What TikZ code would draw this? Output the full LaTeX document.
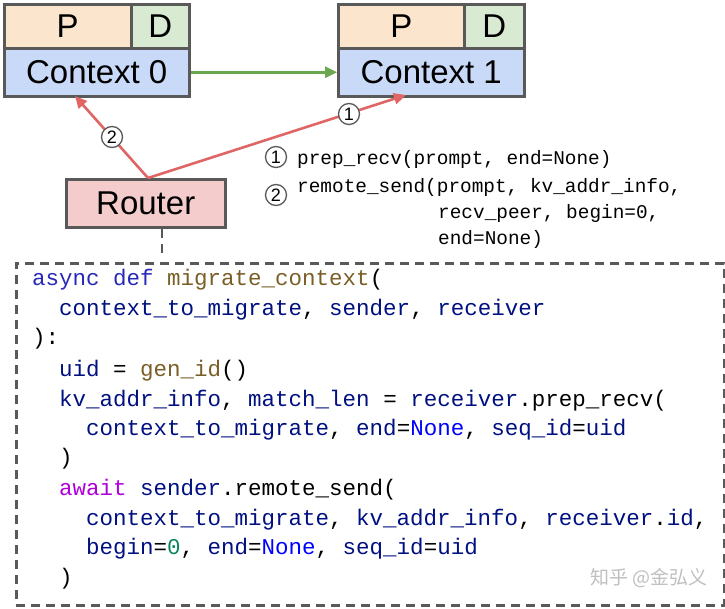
\documentclass[tikz,border=0pt]{standalone}
\usepackage{fontspec}
\setmainfont{Liberation Sans}
\setmonofont{Liberation Mono}
\newfontfamily\cjk{Noto Sans CJK SC}
\usetikzlibrary{arrows.meta}
\definecolor{cP}{HTML}{FCE5CD}
\definecolor{cD}{HTML}{D9EAD3}
\definecolor{cC}{HTML}{C9DAF8}
\definecolor{cR}{HTML}{F4CCCC}
\definecolor{edge}{HTML}{595959}
\definecolor{red1}{HTML}{E06666}
\definecolor{grn1}{HTML}{6AA84F}
\definecolor{kwb}{HTML}{2828B8}
\definecolor{fnc}{HTML}{795E26}
\definecolor{idn}{HTML}{001080}
\definecolor{aw}{HTML}{AF00DB}
\definecolor{nonec}{HTML}{0000FF}
\definecolor{numc}{HTML}{098658}
\newcommand\Kw[1]{\textcolor{kwb}{#1}}
\newcommand\Fn[1]{\textcolor{fnc}{#1}}
\newcommand\Aw[1]{\textcolor{aw}{#1}}
\newcommand\Nn[1]{\textcolor{nonec}{#1}}
\newcommand\Nm[1]{\textcolor{numc}{#1}}
\begin{document}
\begin{tikzpicture}[x=1pt,y=-1pt,
  box/.style={draw=edge,line width=2.5pt,minimum height=#1,inner sep=0pt,font=\fontsize{33}{34}\selectfont,anchor=north west},
  arr/.style={line width=2.6pt,-{Triangle[length=12pt,width=11pt]}},
  circ/.style={circle,draw=edge,line width=1.3pt,fill=white,inner sep=0pt,minimum size=21pt,font=\fontsize{18}{18}\selectfont},
  code/.style={anchor=base west,inner sep=0pt,text=idn,font=\fontsize{22.5}{24}\ttfamily},
  leg/.style={anchor=base west,inner sep=0pt,font=\fontsize{19.4}{20}\ttfamily}]
\useasboundingbox (0,0) rectangle (725,608);
% Context 0
\node[box=44pt,minimum width=127pt,fill=cP] (p0) at (3,3) {P};
\node[box=44pt,minimum width=58pt,fill=cD] (d0) at (130,3) {D};
\node[box=48pt,minimum width=185pt,fill=cC] (c0) at (3,47) {Context 0};
% Context 1
\node[box=44pt,minimum width=126pt,fill=cP] (p1) at (337,3) {P};
\node[box=44pt,minimum width=60pt,fill=cD] (d1) at (463,3) {D};
\node[box=48pt,minimum width=186pt,fill=cC] (c1) at (337,47) {Context 1};
% Router
\node[box=48pt,minimum width=159pt,fill=cR] (r) at (65,178) {Router};
\draw[arr,grn1] (c0.east) -- (c1.west);
\coordinate (rt) at (148,178);
\coordinate (t0) at (75,96);
\coordinate (t1) at (406,95);
\draw[arr,red1] (rt) -- (t0);
\draw[arr,red1] (rt) -- (t1);
\node[circ] (n2) at (112,137) {2};
\node[circ] (n1) at (349,114) {1};
% legend
\node[circ] (l1) at (276,157) {1};
\node[circ] (l2) at (276,195) {2};
\node[leg] (lt1) at (297,164) {prep\_recv(prompt, end=None)};
\node[leg] (lt2) at (297,192) {remote\_send(prompt, kv\_addr\_info,};
\node[leg] (lt3) at (438,218) {recv\_peer, begin=0,};
\node[leg] (lt4) at (438,244) {end=None)};
% code box
\coordinate (rb) at (162,258);
\draw[edge,line width=2.5pt,dash pattern=on 9pt off 6pt] (r.south -| rb) -- (rb);
\node[draw=edge,line width=2.5pt,dash pattern=on 9pt off 6pt,minimum width=708pt,minimum height=342pt,anchor=north west,inner sep=0pt] (cb) at (15,262) {};
\node[code] (k1) at (32,285) {\Kw{async def} \Fn{migrate\_context}\textcolor{black}{(}};
\node[code] (k2) at (59,315) {context\_to\_migrate\textcolor{black}{,} sender\textcolor{black}{,} receiver};
\node[code] (k3) at (32,344) {\textcolor{black}{):}};
\node[code] (k4) at (59,376) {uid \textcolor{black}{=} \Fn{gen\_id}\textcolor{black}{()}};
\node[code] (k5) at (59,406) {kv\_addr\_info\textcolor{black}{,} match\_len \textcolor{black}{=} receiver\textcolor{black}{.prep\_recv(}};
\node[code] (k6) at (86,435) {context\_to\_migrate\textcolor{black}{,} end\textcolor{black}{=}\Nn{None}\textcolor{black}{,} seq\_id\textcolor{black}{=}uid};
\node[code] (k7) at (59,464) {\textcolor{black}{)}};
\node[code] (k8) at (59,495) {\Aw{await} sender\textcolor{black}{.remote\_send(}};
\node[code] (k9) at (86,525) {context\_to\_migrate\textcolor{black}{,} kv\_addr\_info\textcolor{black}{,} receiver\textcolor{black}{.}id\textcolor{black}{,}};
\node[code] (k10) at (86,554) {begin\textcolor{black}{=}\Nm{0}\textcolor{black}{,} end\textcolor{black}{=}\Nn{None}\textcolor{black}{,} seq\_id\textcolor{black}{=}uid};
\node[code] (k11) at (59,584) {\textcolor{black}{)}};
\node[anchor=base east,inner sep=0pt,text=black!25,font=\fontsize{19}{20}\cjk] (wm) at (708,584) {知乎 @金弘义};
\end{tikzpicture}
\end{document}
